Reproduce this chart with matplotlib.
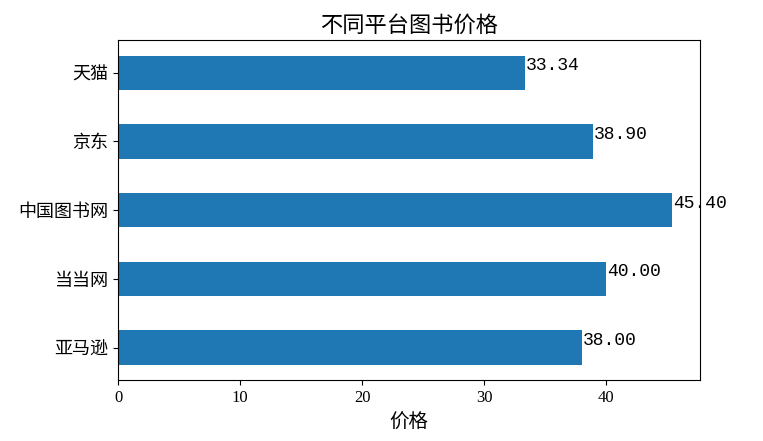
import matplotlib
matplotlib.use("Agg")
import matplotlib.pyplot as plt

platforms = ["亚马逊", "当当网", "中国图书网", "京东", "天猫"]
prices = [38.00, 40.00, 45.40, 38.90, 33.34]

plt.rcParams['font.family'] = ['Noto Sans CJK SC', 'DejaVu Sans']
fig = plt.figure(figsize=(7.63, 4.41), dpi=100)
ax = fig.add_axes([0.155, 0.138, 0.762, 0.771])
ax.barh(platforms, prices, height=0.5, color='#1f77b4')
for i, v in enumerate(prices):
    ax.text(v + 0.1, i + 0.1, f"{v:.2f}", fontsize=13, family=['Liberation Mono'], va='center', ha='left')
ax.set_title("不同平台图书价格", fontsize=16)
ax.set_xlabel("价格", fontsize=14)
ax.tick_params(axis='y', labelsize=13)
ax.tick_params(axis='x', labelsize=12)
for t in ax.get_xticklabels():
    t.set_family(['Liberation Serif'])
fig.savefig("out.png", dpi=100)
